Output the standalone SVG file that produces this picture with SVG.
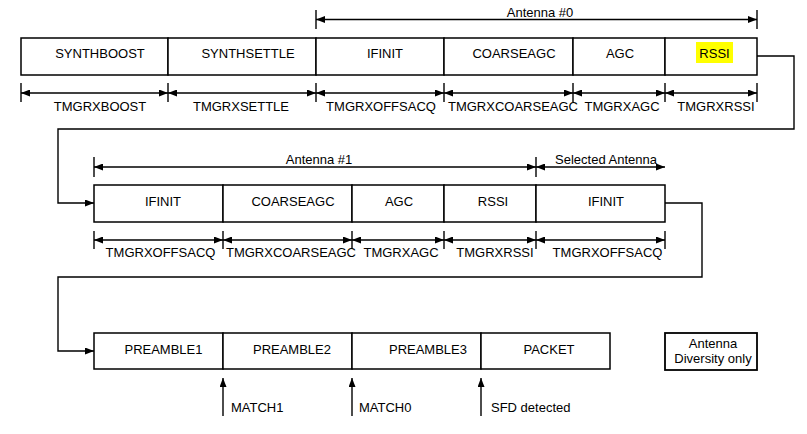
<svg xmlns="http://www.w3.org/2000/svg" width="807" height="434" viewBox="0 0 807 434">
<defs>
<marker id="ah" viewBox="0 0 9 7" refX="9" refY="3.5" markerWidth="9" markerHeight="7" markerUnits="userSpaceOnUse" orient="auto-start-reverse"><path d="M0,0 L9,3.5 L0,7 z" fill="#000"/></marker>
</defs>
<style>
text{font-family:"Liberation Sans",Arial,sans-serif;font-size:13px;fill:#000;text-anchor:middle}
.box{fill:#fff;stroke:#000;stroke-width:1.5}
.dim{stroke:#000;stroke-width:1.4;fill:none;marker-start:url(#ah);marker-end:url(#ah)}
.tick{stroke:#000;stroke-width:1.4}
.conn{stroke:#000;stroke-width:1.4;fill:none}
.arr{marker-end:url(#ah)}
</style>
<rect width="807" height="434" fill="#fff"/>

<!-- Row 1 -->
<g id="row1">
<g id="n-synthboost"><rect class="box" x="21" y="38" width="147" height="37"/><text x="100" y="58">SYNTHBOOST</text></g>
<g id="n-synthsettle"><rect class="box" x="168" y="38" width="148" height="37"/><text x="248" y="58">SYNTHSETTLE</text></g>
<g id="n-ifinit0"><rect class="box" x="316" y="38" width="128" height="37"/><text x="385" y="58">IFINIT</text></g>
<g id="n-coarseagc0"><rect class="box" x="444" y="38" width="129" height="37"/><text x="514" y="58">COARSEAGC</text></g>
<g id="n-agc0"><rect class="box" x="573" y="38" width="92" height="37"/><text x="620" y="58">AGC</text></g>
<g id="n-rssi0"><rect class="box" x="665" y="38" width="92" height="37"/><rect x="696" y="42" width="37" height="21" fill="#ffff00"/><text x="714.5" y="58">RSSI</text></g>
</g>

<!-- Row 2 -->
<g id="row2">
<g id="n-ifinit1"><rect class="box" x="94" y="185" width="129" height="37"/><text x="163" y="206">IFINIT</text></g>
<g id="n-coarseagc1"><rect class="box" x="223" y="185" width="129" height="37"/><text x="293" y="206">COARSEAGC</text></g>
<g id="n-agc1"><rect class="box" x="352" y="185" width="92" height="37"/><text x="399" y="206">AGC</text></g>
<g id="n-rssi1"><rect class="box" x="444" y="185" width="92" height="37"/><text x="493" y="206">RSSI</text></g>
<g id="n-ifinit2"><rect class="box" x="536" y="185" width="129" height="37"/><text x="606" y="206">IFINIT</text></g>
</g>

<!-- Row 3 -->
<g id="row3">
<g id="n-preamble1"><rect class="box" x="94" y="333" width="129" height="36"/><text x="163.5" y="354">PREAMBLE1</text></g>
<g id="n-preamble2"><rect class="box" x="223" y="333" width="129" height="36"/><text x="292" y="354">PREAMBLE2</text></g>
<g id="n-preamble3"><rect class="box" x="352" y="333" width="129" height="36"/><text x="428" y="354">PREAMBLE3</text></g>
<g id="n-packet"><rect class="box" x="481" y="333" width="129" height="36"/><text x="549" y="354">PACKET</text></g>
</g>

<g id="n-legend"><rect class="box" x="665" y="333" width="92" height="37" style="stroke-width:1.8"/><text x="713" y="348">Antenna</text><text x="713" y="362.5">Diversity only</text></g>

<!-- Connectors / dimension lines -->
<g id="connectors">
<!-- Antenna #0 -->
<line class="tick" x1="316" y1="10" x2="316" y2="29"/>
<line class="tick" x1="757" y1="10" x2="757" y2="29"/>
<line class="dim" x1="316" y1="19.5" x2="757" y2="19.5"/>
<text x="540" y="17">Antenna #0</text>

<!-- Row 1 dimensions -->
<g>
<line class="tick" x1="21" y1="83" x2="21" y2="102"/>
<line class="tick" x1="168" y1="83" x2="168" y2="102"/>
<line class="tick" x1="316" y1="83" x2="316" y2="102"/>
<line class="tick" x1="444" y1="83" x2="444" y2="102"/>
<line class="tick" x1="573" y1="83" x2="573" y2="102"/>
<line class="tick" x1="665" y1="83" x2="665" y2="102"/>
<line class="tick" x1="757" y1="83" x2="757" y2="102"/>
<line class="dim" x1="21" y1="93" x2="168" y2="93"/>
<line class="dim" x1="168" y1="93" x2="316" y2="93"/>
<line class="dim" x1="316" y1="93" x2="444" y2="93"/>
<line class="dim" x1="444" y1="93" x2="573" y2="93"/>
<line class="dim" x1="573" y1="93" x2="665" y2="93"/>
<line class="dim" x1="665" y1="93" x2="757" y2="93"/>
<text x="100" y="111">TMGRXBOOST</text>
<text x="241" y="111">TMGRXSETTLE</text>
<text x="381" y="111">TMGRXOFFSACQ</text>
<text x="513" y="111">TMGRXCOARSEAGC</text>
<text x="622" y="111">TMGRXAGC</text>
<text x="716" y="111">TMGRXRSSI</text>
</g>

<!-- Connector row1 -> row2 -->
<path class="conn arr" d="M757,56 H794 V129 H58 V203 H94"/>

<!-- Antenna #1 / Selected Antenna -->
<line class="tick" x1="94" y1="157" x2="94" y2="177"/>
<line class="tick" x1="536" y1="157" x2="536" y2="177"/>
<line class="dim" x1="94" y1="167" x2="536" y2="167"/>
<line class="dim" x1="536" y1="167" x2="665" y2="167"/>
<text x="319" y="164">Antenna #1</text>
<text x="606" y="164">Selected Antenna</text>

<!-- Row 2 dimensions -->
<g>
<line class="tick" x1="94" y1="231" x2="94" y2="249"/>
<line class="tick" x1="223" y1="231" x2="223" y2="249"/>
<line class="tick" x1="352" y1="231" x2="352" y2="249"/>
<line class="tick" x1="444" y1="231" x2="444" y2="249"/>
<line class="tick" x1="536" y1="231" x2="536" y2="249"/>
<line class="tick" x1="665" y1="231" x2="665" y2="249"/>
<line class="dim" x1="94" y1="240" x2="223" y2="240"/>
<line class="dim" x1="223" y1="240" x2="352" y2="240"/>
<line class="dim" x1="352" y1="240" x2="444" y2="240"/>
<line class="dim" x1="444" y1="240" x2="536" y2="240"/>
<line class="dim" x1="536" y1="240" x2="665" y2="240"/>
<text x="160.5" y="257">TMGRXOFFSACQ</text>
<text x="291" y="257">TMGRXCOARSEAGC</text>
<text x="401" y="257">TMGRXAGC</text>
<text x="495" y="257">TMGRXRSSI</text>
<text x="607.5" y="257">TMGRXOFFSACQ</text>
</g>

<!-- Connector row2 -> row3 -->
<path class="conn arr" d="M665,203 H702 V277 H58 V351 H94"/>

<!-- Event arrows -->
<line class="conn arr" x1="223" y1="416" x2="223" y2="378"/>
<line class="conn arr" x1="352" y1="416" x2="352" y2="378"/>
<line class="conn arr" x1="481" y1="416" x2="481" y2="378"/>
<text x="231" y="412" style="text-anchor:start">MATCH1</text>
<text x="359" y="412" style="text-anchor:start">MATCH0</text>
<text x="491" y="412" style="text-anchor:start">SFD detected</text>
</g>
</svg>
